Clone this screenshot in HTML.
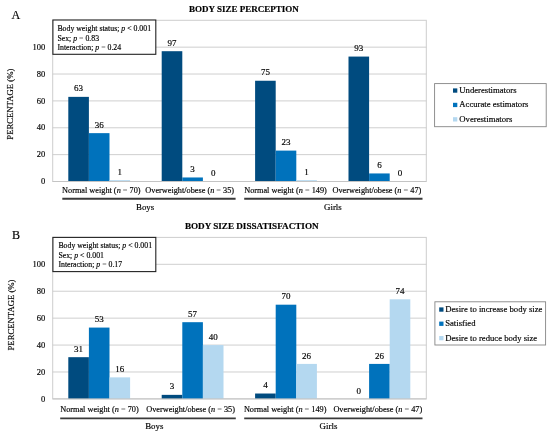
<!DOCTYPE html>
<html><head><meta charset="utf-8"><title>Body size perception and dissatisfaction</title>
<style>
html,body{margin:0;padding:0;background:#fff;}
svg{display:block;}
text{font-family:"Liberation Serif",serif;fill:#000;stroke:#000;stroke-width:0.16px;}
</style></head>
<body>
<svg width="550" height="435" viewBox="0 0 550 435">
<rect width="550" height="435" fill="#fff"/>
<rect x="52.7" y="20.3" width="373.6" height="161.2" fill="#fff" stroke="#CECECE" stroke-width="1"/>
<line x1="52.7" x2="426.3" y1="154.63" y2="154.63" stroke="#C6C6C6" stroke-width="0.85"/>
<line x1="52.7" x2="426.3" y1="127.77" y2="127.77" stroke="#C6C6C6" stroke-width="0.85"/>
<line x1="52.7" x2="426.3" y1="100.90" y2="100.90" stroke="#C6C6C6" stroke-width="0.85"/>
<line x1="52.7" x2="426.3" y1="74.03" y2="74.03" stroke="#C6C6C6" stroke-width="0.85"/>
<line x1="52.7" x2="426.3" y1="47.17" y2="47.17" stroke="#C6C6C6" stroke-width="0.85"/>
<text x="45.35" y="184.10" text-anchor="end" font-size="8.5">0</text>
<text x="45.35" y="157.23" text-anchor="end" font-size="8.5">20</text>
<text x="45.35" y="130.37" text-anchor="end" font-size="8.5">40</text>
<text x="45.35" y="103.50" text-anchor="end" font-size="8.5">60</text>
<text x="45.35" y="76.63" text-anchor="end" font-size="8.5">80</text>
<text x="45.35" y="49.77" text-anchor="end" font-size="8.5">100</text>
<rect x="68.30" y="96.87" width="20.6" height="84.63" fill="#004B7F"/>
<text x="78.60" y="91.47" text-anchor="middle" font-size="9">63</text>
<rect x="88.90" y="133.14" width="20.6" height="48.36" fill="#0072BC"/>
<text x="99.20" y="127.74" text-anchor="middle" font-size="9">36</text>
<rect x="109.50" y="180.16" width="20.6" height="1.34" fill="#B4D8F0"/>
<text x="119.80" y="174.76" text-anchor="middle" font-size="9">1</text>
<rect x="161.70" y="51.20" width="20.6" height="130.30" fill="#004B7F"/>
<text x="172.00" y="45.80" text-anchor="middle" font-size="9">97</text>
<rect x="182.30" y="177.47" width="20.6" height="4.03" fill="#0072BC"/>
<text x="192.60" y="172.07" text-anchor="middle" font-size="9">3</text>
<text x="213.20" y="176.10" text-anchor="middle" font-size="9">0</text>
<rect x="255.10" y="80.75" width="20.6" height="100.75" fill="#004B7F"/>
<text x="265.40" y="75.35" text-anchor="middle" font-size="9">75</text>
<rect x="275.70" y="150.60" width="20.6" height="30.90" fill="#0072BC"/>
<text x="286.00" y="145.20" text-anchor="middle" font-size="9">23</text>
<rect x="296.30" y="180.16" width="20.6" height="1.34" fill="#B4D8F0"/>
<text x="306.60" y="174.76" text-anchor="middle" font-size="9">1</text>
<rect x="348.50" y="56.57" width="20.6" height="124.93" fill="#004B7F"/>
<text x="358.80" y="51.17" text-anchor="middle" font-size="9">93</text>
<rect x="369.10" y="173.44" width="20.6" height="8.06" fill="#0072BC"/>
<text x="379.40" y="168.04" text-anchor="middle" font-size="9">6</text>
<text x="400.00" y="176.10" text-anchor="middle" font-size="9">0</text>
<line x1="52.7" x2="426.3" y1="181.5" y2="181.5" stroke="#C4C4C4" stroke-width="1"/>
<text transform="translate(13.0,104.20) rotate(-90)" text-anchor="middle" font-size="8.7">PERCENTAGE (%)</text>
<text x="11.6" y="18.8" font-size="12.1">A</text>
<text x="189.0" y="11.7" font-size="9.0" font-weight="bold">BODY SIZE PERCEPTION</text>
<rect x="52.9" y="20.0" width="102.9" height="34.3" fill="#fff" stroke="#222" stroke-width="1.1"/>
<text x="57.4" y="30.80" font-size="7.8">Body weight status; <tspan font-style="italic">p</tspan> &lt; 0.001</text>
<text x="57.4" y="40.70" font-size="7.8">Sex; <tspan font-style="italic">p</tspan> <tspan fill="#777" stroke="none">=</tspan> 0.83</text>
<text x="57.4" y="49.80" font-size="7.8">Interaction; <tspan font-style="italic">p</tspan> <tspan fill="#777" stroke="none">=</tspan> 0.24</text>
<text x="62.1" y="193.4" font-size="8.25">Normal weight (<tspan font-style="italic">n</tspan> <tspan fill="#777" stroke="none">=</tspan> 70)</text>
<text x="145.3" y="193.4" font-size="8.25">Overweight/obese (<tspan font-style="italic">n</tspan> <tspan fill="#777" stroke="none">=</tspan> 35)</text>
<text x="244.2" y="193.4" font-size="8.25">Normal weight (<tspan font-style="italic">n</tspan> <tspan fill="#777" stroke="none">=</tspan> 149)</text>
<text x="332.5" y="193.4" font-size="8.25">Overweight/obese (<tspan font-style="italic">n</tspan> <tspan fill="#777" stroke="none">=</tspan> 47)</text>
<line x1="62.3" x2="235.6" y1="198.7" y2="198.7" stroke="#3a3a3a" stroke-width="1.9"/>
<line x1="244.2" x2="422.5" y1="198.7" y2="198.7" stroke="#3a3a3a" stroke-width="1.9"/>
<text x="136" y="209.8" font-size="8.9">Boys</text>
<text x="324" y="209.8" font-size="8.9">Girls</text>
<rect x="434.6" y="83.6" width="111.60000000000002" height="43.10000000000001" fill="#fff" stroke="#858585" stroke-width="0.9"/>
<rect x="453.0" y="88.40" width="4.3" height="4.3" fill="#004B7F"/>
<text x="459.3" y="92.90" font-size="8.68">Underestimators</text>
<rect x="453.0" y="102.80" width="4.3" height="4.3" fill="#0072BC"/>
<text x="459.3" y="107.30" font-size="8.68">Accurate estimators</text>
<rect x="453.0" y="117.20" width="4.3" height="4.3" fill="#B4D8F0"/>
<text x="459.3" y="121.70" font-size="8.68">Overestimators</text>
<rect x="52.7" y="237.4" width="373.6" height="161.49999999999997" fill="#fff" stroke="#CECECE" stroke-width="1"/>
<line x1="52.7" x2="426.3" y1="371.98" y2="371.98" stroke="#C6C6C6" stroke-width="0.85"/>
<line x1="52.7" x2="426.3" y1="345.07" y2="345.07" stroke="#C6C6C6" stroke-width="0.85"/>
<line x1="52.7" x2="426.3" y1="318.15" y2="318.15" stroke="#C6C6C6" stroke-width="0.85"/>
<line x1="52.7" x2="426.3" y1="291.23" y2="291.23" stroke="#C6C6C6" stroke-width="0.85"/>
<line x1="52.7" x2="426.3" y1="264.32" y2="264.32" stroke="#C6C6C6" stroke-width="0.85"/>
<text x="45.35" y="401.50" text-anchor="end" font-size="8.5">0</text>
<text x="45.35" y="374.58" text-anchor="end" font-size="8.5">20</text>
<text x="45.35" y="347.67" text-anchor="end" font-size="8.5">40</text>
<text x="45.35" y="320.75" text-anchor="end" font-size="8.5">60</text>
<text x="45.35" y="293.83" text-anchor="end" font-size="8.5">80</text>
<text x="45.35" y="266.92" text-anchor="end" font-size="8.5">100</text>
<rect x="68.30" y="357.18" width="20.6" height="41.72" fill="#004B7F"/>
<text x="78.60" y="351.78" text-anchor="middle" font-size="9">31</text>
<rect x="88.90" y="327.57" width="20.6" height="71.33" fill="#0072BC"/>
<text x="99.20" y="322.17" text-anchor="middle" font-size="9">53</text>
<rect x="109.50" y="377.37" width="20.6" height="21.53" fill="#B4D8F0"/>
<text x="119.80" y="371.97" text-anchor="middle" font-size="9">16</text>
<rect x="161.70" y="394.86" width="20.6" height="4.04" fill="#004B7F"/>
<text x="172.00" y="389.46" text-anchor="middle" font-size="9">3</text>
<rect x="182.30" y="322.19" width="20.6" height="76.71" fill="#0072BC"/>
<text x="192.60" y="316.79" text-anchor="middle" font-size="9">57</text>
<rect x="202.90" y="345.07" width="20.6" height="53.83" fill="#B4D8F0"/>
<text x="213.20" y="339.67" text-anchor="middle" font-size="9">40</text>
<rect x="255.10" y="393.52" width="20.6" height="5.38" fill="#004B7F"/>
<text x="265.40" y="388.12" text-anchor="middle" font-size="9">4</text>
<rect x="275.70" y="304.69" width="20.6" height="94.21" fill="#0072BC"/>
<text x="286.00" y="299.29" text-anchor="middle" font-size="9">70</text>
<rect x="296.30" y="363.91" width="20.6" height="34.99" fill="#B4D8F0"/>
<text x="306.60" y="358.51" text-anchor="middle" font-size="9">26</text>
<text x="358.80" y="393.50" text-anchor="middle" font-size="9">0</text>
<rect x="369.10" y="363.91" width="20.6" height="34.99" fill="#0072BC"/>
<text x="379.40" y="358.51" text-anchor="middle" font-size="9">26</text>
<rect x="389.70" y="299.31" width="20.6" height="99.59" fill="#B4D8F0"/>
<text x="400.00" y="293.91" text-anchor="middle" font-size="9">74</text>
<line x1="52.7" x2="426.3" y1="398.9" y2="398.9" stroke="#C4C4C4" stroke-width="1"/>
<text transform="translate(14.1,315.00) rotate(-90)" text-anchor="middle" font-size="8.7">PERCENTAGE (%)</text>
<text x="12.0" y="238.7" font-size="12.1">B</text>
<text x="184.9" y="229.2" font-size="9.15" font-weight="bold">BODY SIZE DISSATISFACTION</text>
<rect x="52.9" y="237.4" width="102.9" height="34.2" fill="#fff" stroke="#222" stroke-width="1.1"/>
<text x="58.4" y="247.80" font-size="7.8">Body weight status; <tspan font-style="italic">p</tspan> &lt; 0.001</text>
<text x="58.4" y="257.70" font-size="7.8">Sex; <tspan font-style="italic">p</tspan> &lt; 0.001</text>
<text x="58.4" y="266.80" font-size="7.8">Interaction; <tspan font-style="italic">p</tspan> <tspan fill="#777" stroke="none">=</tspan> 0.17</text>
<text x="60.2" y="412.3" font-size="8.25">Normal weight (<tspan font-style="italic">n</tspan> <tspan fill="#777" stroke="none">=</tspan> 70)</text>
<text x="146.2" y="412.3" font-size="8.25">Overweight/obese (<tspan font-style="italic">n</tspan> <tspan fill="#777" stroke="none">=</tspan> 35)</text>
<text x="243.9" y="412.3" font-size="8.25">Normal weight (<tspan font-style="italic">n</tspan> <tspan fill="#777" stroke="none">=</tspan> 149)</text>
<text x="333.4" y="412.3" font-size="8.25">Overweight/obese (<tspan font-style="italic">n</tspan> <tspan fill="#777" stroke="none">=</tspan> 47)</text>
<line x1="60.2" x2="235.8" y1="418.4" y2="418.4" stroke="#3a3a3a" stroke-width="1.9"/>
<line x1="244.2" x2="422.5" y1="418.4" y2="418.4" stroke="#3a3a3a" stroke-width="1.9"/>
<text x="145.2" y="429" font-size="8.9">Boys</text>
<text x="319.6" y="429" font-size="8.9">Girls</text>
<rect x="434.9" y="301.8" width="110.70000000000005" height="43.19999999999999" fill="#fff" stroke="#858585" stroke-width="0.9"/>
<rect x="439.2" y="307.40" width="4.3" height="4.3" fill="#004B7F"/>
<text x="445.2" y="311.90" font-size="8.68">Desire to increase body size</text>
<rect x="439.2" y="321.60" width="4.3" height="4.3" fill="#0072BC"/>
<text x="445.2" y="326.10" font-size="8.68">Satisfied</text>
<rect x="439.2" y="336.00" width="4.3" height="4.3" fill="#B4D8F0"/>
<text x="445.2" y="340.50" font-size="8.68">Desire to reduce body size</text>
</svg>
</body></html>
